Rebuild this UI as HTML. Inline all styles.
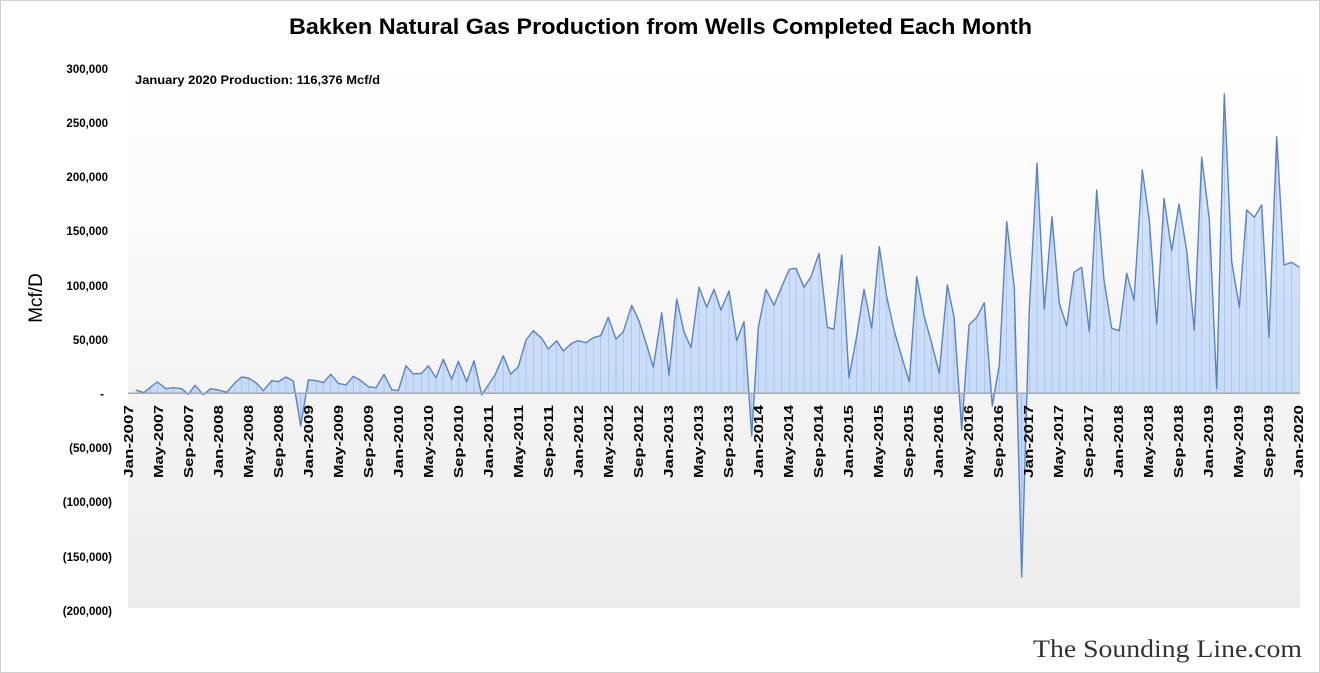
<!DOCTYPE html>
<html><head><meta charset="utf-8"><style>
html,body{margin:0;padding:0;background:#fff;}
svg{display:block;font-family:"Liberation Sans",sans-serif;}
</style></head><body>
<svg width="1320" height="673" viewBox="0 0 1320 673" xmlns="http://www.w3.org/2000/svg">
<defs>
<linearGradient id="bg" x1="0" y1="0" x2="0" y2="1">
<stop offset="0" stop-color="#ffffff"/><stop offset="0.5" stop-color="#f6f6f6"/><stop offset="1" stop-color="#ececec"/>
</linearGradient>
<linearGradient id="fl" x1="0" y1="0" x2="0" y2="1">
<stop offset="0" stop-color="#dbe7fb"/><stop offset="1" stop-color="#bcd3f7"/>
</linearGradient>
</defs>
<rect x="0.5" y="0.5" width="1319" height="672" fill="#fff" stroke="#d0d0d0"/>
<rect x="128" y="62" width="1172" height="546" fill="url(#bg)"/>
<text x="289" y="34" textLength="743" lengthAdjust="spacingAndGlyphs" font-size="22" font-weight="bold" fill="#000">Bakken Natural Gas Production from Wells Completed Each Month</text>
<g font-size="11.5" font-weight="bold" text-anchor="end" fill="#000">
<text x="108" y="73">300,000</text>
<text x="108" y="127">250,000</text>
<text x="108" y="181">200,000</text>
<text x="108" y="235">150,000</text>
<text x="108" y="290">100,000</text>
<text x="108" y="344">50,000</text>
<text x="104" y="398">-</text>
<text x="112" y="452">(50,000)</text>
<text x="112" y="506">(100,000)</text>
<text x="112" y="561">(150,000)</text>
<text x="112" y="615">(200,000)</text>
</g>
<text transform="translate(42,298) rotate(-90)" text-anchor="middle" font-size="19" fill="#000">Mcf/D</text>
<text x="135" y="84" font-size="11.5" font-weight="bold" textLength="245" lengthAdjust="spacingAndGlyphs">January 2020 Production: 116,376  Mcf/d</text>
<g id="area"></g>
<line x1="128" y1="393.3" x2="1300" y2="393.3" stroke="#a8a8a8" stroke-width="1.5"/>
<g id="xl" font-size="13" font-weight="bold" fill="#000"></g>
<text x="1033" y="657" textLength="269" lengthAdjust="spacingAndGlyphs" font-family="Liberation Serif, serif" font-size="25" fill="#333">The Sounding Line.com</text>
<script>
var pts=[[136,390],[144,392.7],[150.7,387],[157.3,382],[166,388.7],[173.3,387.7],[181.7,388.7],[188.3,394.3],[195,385.3],[203.3,394.7],[210.7,388.7],[218.3,390],[226.7,392.3],[235,382.7],[241.7,377],[248.3,378],[256.7,383.3],[263.3,390.7],[271.7,380.7],[278.3,381.7],[286,377],[293.3,381],[300.7,426],[308.3,380],[316.7,380.7],[323.3,382.7],[330.7,374.3],[338.3,383.3],[346,385],[353.3,376.3],[360,380],[368.3,386.7],[376,387.7],[384,374.3],[391.7,389.7],[398.3,390.7],[406,365.7],[413.3,374],[421.7,373.3],[428.3,365.7],[436,377.7],[443.3,359.3],[451.7,379.3],[458.3,361.3],[466.7,381.7],[474,360.7],[481.7,395],[488.3,385],[495,375],[503.3,355.7],[510.7,374.3],[518.3,366.7],[526,340],[533.3,330.7],[541.7,338.3],[548.3,349],[556.7,340.7],[563.3,351],[571.7,343.3],[578.3,340.7],[586,342.7],[593.3,337.7],[600.7,335.7],[608.3,317.3],[616,339],[623.3,331.7],[631.7,305.3],[639.3,321.7],[646.7,345],[653.3,367.3],[661.7,312.7],[669,375],[676.7,299],[684,331.7],[691,347.7],[699,287.3],[706.7,307.3],[714,289.3],[721,310],[729,291],[736.7,340.7],[744,321.7],[751.7,436],[758.3,327.7],[766,289.3],[774,305.3],[781.7,286.7],[789.3,269.3],[796,268.3],[804,287.3],[811,276.7],[819,253.3],[827.3,327.3],[834,329.3],[841.7,255],[849,377.7],[856.7,336],[864,289.3],[871.7,328.3],[879.3,246.7],[886.7,296.7],[894,330],[901.7,356.7],[909.3,381.7],[916.7,276.7],[924.3,316.7],[931.7,343.3],[939.3,373.3],[947.3,285],[954,316.7],[961.7,430],[969,325],[976.7,317.3],[984.3,302.7],[992.3,406],[999.3,365],[1006.7,221.7],[1014.3,288.3],[1021.7,577],[1029.3,310],[1037,163.3],[1044.3,309.3],[1052,216.7],[1059.3,303.3],[1066.7,326],[1074,272.3],[1081.7,267.3],[1089.3,331.7],[1096.7,190],[1104,280],[1111.7,328.3],[1119.3,330.7],[1126.7,273.3],[1134,300],[1142.3,170],[1149.3,220],[1156.7,324],[1164,198.3],[1171.7,250.7],[1179,204],[1186.7,250.7],[1194.3,330],[1201.7,157.3],[1209.3,219.3],[1216.7,388.3],[1224.3,94],[1231.7,261.7],[1239.3,307.3],[1246.7,210],[1254.3,217.3],[1261.7,205],[1269,337.3],[1276.7,136.7],[1284,265],[1291.7,262.3],[1299.3,267.3]];
var B=393.3,ns="http://www.w3.org/2000/svg",g=document.getElementById('area');
var d="M"+pts[0][0]+","+B;pts.forEach(function(p){d+=" L"+p[0]+","+p[1];});d+=" L"+pts[pts.length-1][0]+","+B+" Z";
var a=document.createElementNS(ns,'path');a.setAttribute('d',d);a.setAttribute('fill','url(#fl)');g.appendChild(a);
pts.forEach(function(p){var l=document.createElementNS(ns,'line');l.setAttribute('x1',p[0]);l.setAttribute('x2',p[0]);l.setAttribute('y1',p[1]);l.setAttribute('y2',B);l.setAttribute('stroke','#9fb7dc');l.setAttribute('stroke-width','0.6');g.appendChild(l);});
var pl=document.createElementNS(ns,'polyline');pl.setAttribute('points',pts.map(function(p){return p.join(',')}).join(' '));pl.setAttribute('fill','none');pl.setAttribute('stroke','#5a83c2');pl.setAttribute('stroke-width','1.4');pl.setAttribute('stroke-linejoin','round');g.appendChild(pl);
var xl=document.getElementById('xl'),m=['Jan','May','Sep'];
for(var k=0;k<=39;k++){var y=2007+Math.floor(k/3);var t=document.createElementNS(ns,'text');var x=128+30*k;
t.setAttribute('transform','translate('+(x+5)+',478) rotate(-90)');t.setAttribute('textLength','73');t.setAttribute('lengthAdjust','spacingAndGlyphs');t.textContent=m[k%3]+'-'+y;xl.appendChild(t);}
</script>
</svg>
</body></html>
